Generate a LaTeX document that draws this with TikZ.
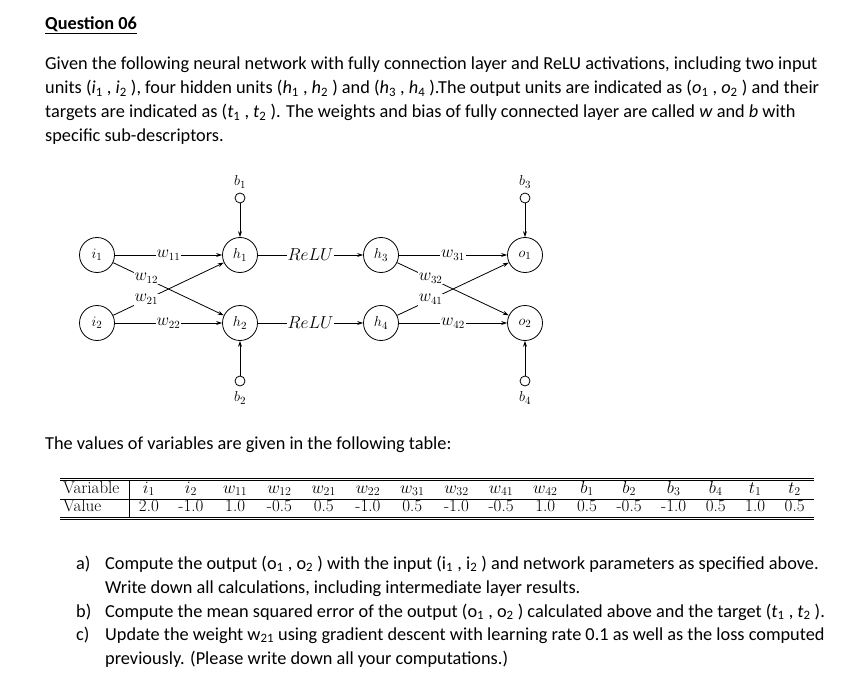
\documentclass[tikz,border=0pt]{standalone}
\usepackage{fontspec}
\setmainfont{Carlito}
\newfontfamily\lmfont{Latin Modern Roman}
\usetikzlibrary{arrows.meta}
\begin{document}
\begin{tikzpicture}[x=1pt,y=-1pt,
  txt/.style={anchor=base west,inner sep=0,font=\fontsize{18.3}{20}\selectfont},
  neuron/.style={circle,draw,line width=0.8pt,minimum size=35,inner sep=0,font=\lmfont\fontsize{15}{17}\selectfont},
  bias/.style={circle,draw,line width=0.8pt,minimum size=10,inner sep=0},
  blab/.style={font=\lmfont\fontsize{15}{17}\selectfont,inner sep=1pt},
  edge/.style={line width=0.8pt,-{Stealth[length=6pt,width=4pt]}},
  wl/.style={fill=white,inner sep=1pt,font=\lmfont\fontsize{16}{18}\selectfont}]
\useasboundingbox (0,0) rectangle (862,687);
\node[txt,font=\bfseries\fontsize{18.3}{20}\selectfont] (q) at (45,30) {\underline{Question 06}};
\node[txt] (l1) at (45,70) {Given the following neural network with fully connection layer and ReLU activations, including two input};
\node[txt] (l2) at (45,94) {units (\textit{i}\textsubscript{1} , \textit{i}\textsubscript{2} ), four hidden units (\textit{h}\textsubscript{1} , \textit{h}\textsubscript{2} ) and (\textit{h}\textsubscript{3} , \textit{h}\textsubscript{4} ).The output units are indicated as (\textit{o}\textsubscript{1} , \textit{o}\textsubscript{2} ) and their};
\node[txt] (l3) at (45,118) {targets are indicated as (\textit{t}\textsubscript{1} , \textit{t}\textsubscript{2} ). The weights and bias of fully connected layer are called \textit{w} and \textit{b} with};
\node[txt] (l4) at (45,142) {specific sub-descriptors.};

% network
\node[neuron] (i1) at (97,255) {$i_1$};
\node[neuron] (i2) at (97,323) {$i_2$};
\node[neuron] (h1) at (240,255) {$h_1$};
\node[neuron] (h2) at (240,323) {$h_2$};
\node[neuron] (h3) at (381,255) {$h_3$};
\node[neuron] (h4) at (381,323) {$h_4$};
\node[neuron] (o1) at (525,255) {$o_1$};
\node[neuron] (o2) at (525,323) {$o_2$};
\node[bias] (b1) at (240,198) {};
\node[bias] (b2) at (240,381) {};
\node[bias] (b3) at (525,198) {};
\node[bias] (b4) at (525,381) {};
\node[blab] (b1l) at (240,182) {$b_1$};
\node[blab] (b2l) at (240,398) {$b_2$};
\node[blab] (b3l) at (525,182) {$b_3$};
\node[blab] (b4l) at (525,398) {$b_4$};
\draw[edge] (b1) -- (h1);
\draw[edge] (b2) -- (h2);
\draw[edge] (b3) -- (o1);
\draw[edge] (b4) -- (o2);
\draw[edge] (i1) -- node[wl] {$w_{11}$} (h1);
\draw[edge] (i2) -- node[wl] {$w_{22}$} (h2);
\draw[edge] (i1) -- node[wl,pos=0.3] {$w_{12}$} (h2);
\draw[edge] (i2) -- node[wl,pos=0.3] {$w_{21}$} (h1);
\draw[edge] (h1) -- node[wl] {$ReLU$} (h3);
\draw[edge] (h2) -- node[wl] {$ReLU$} (h4);
\draw[edge] (h3) -- node[wl] {$w_{31}$} (o1);
\draw[edge] (h4) -- node[wl] {$w_{42}$} (o2);
\draw[edge] (h3) -- node[wl,pos=0.3] {$w_{32}$} (o2);
\draw[edge] (h4) -- node[wl,pos=0.3] {$w_{41}$} (o1);

\node[txt] (tv) at (45,449) {The values of variables are given in the following table:};

\node[inner sep=0,anchor=north west,font=\lmfont\fontsize{17}{19}\selectfont] (tab) at (60,478) {%
\setlength{\tabcolsep}{9.8pt}\renewcommand{\arraystretch}{0.95}%
\begin{tabular}{@{\hspace{3pt}}l|cccccccccccccccc}
\hline\hline
Variable & $i_1$ & $i_2$ & $w_{11}$ & $w_{12}$ & $w_{21}$ & $w_{22}$ & $w_{31}$ & $w_{32}$ & $w_{41}$ & $w_{42}$ & $b_1$ & $b_2$ & $b_3$ & $b_4$ & $t_1$ & $t_2$\\
\hline
Value & 2.0 & -1.0 & 1.0 & -0.5 & 0.5 & -1.0 & 0.5 & -1.0 & -0.5 & 1.0 & 0.5 & -0.5 & -1.0 & 0.5 & 1.0 & 0.5\\
\hline\hline
\end{tabular}};

\node[txt] (al) at (76,569) {a)};
\node[txt] (a1) at (105,569) {Compute the output (o\textsubscript{1} , o\textsubscript{2} ) with the input (i\textsubscript{1} , i\textsubscript{2} ) and network parameters as specified above.};
\node[txt] (a2) at (105,593) {Write down all calculations, including intermediate layer results.};
\node[txt] (bl) at (76,617) {b)};
\node[txt] (b1t) at (105,617) {Compute the mean squared error of the output (o\textsubscript{1} , o\textsubscript{2} ) calculated above and the target (\textit{t}\textsubscript{1} , \textit{t}\textsubscript{2} ).};
\node[txt] (cl) at (76,640) {c)};
\node[txt] (c1) at (105,640) {Update the weight w\textsubscript{21} using gradient descent with learning rate 0.1 as well as the loss computed};
\node[txt] (c2) at (105,664) {previously. (Please write down all your computations.)};
\end{tikzpicture}
\end{document}
